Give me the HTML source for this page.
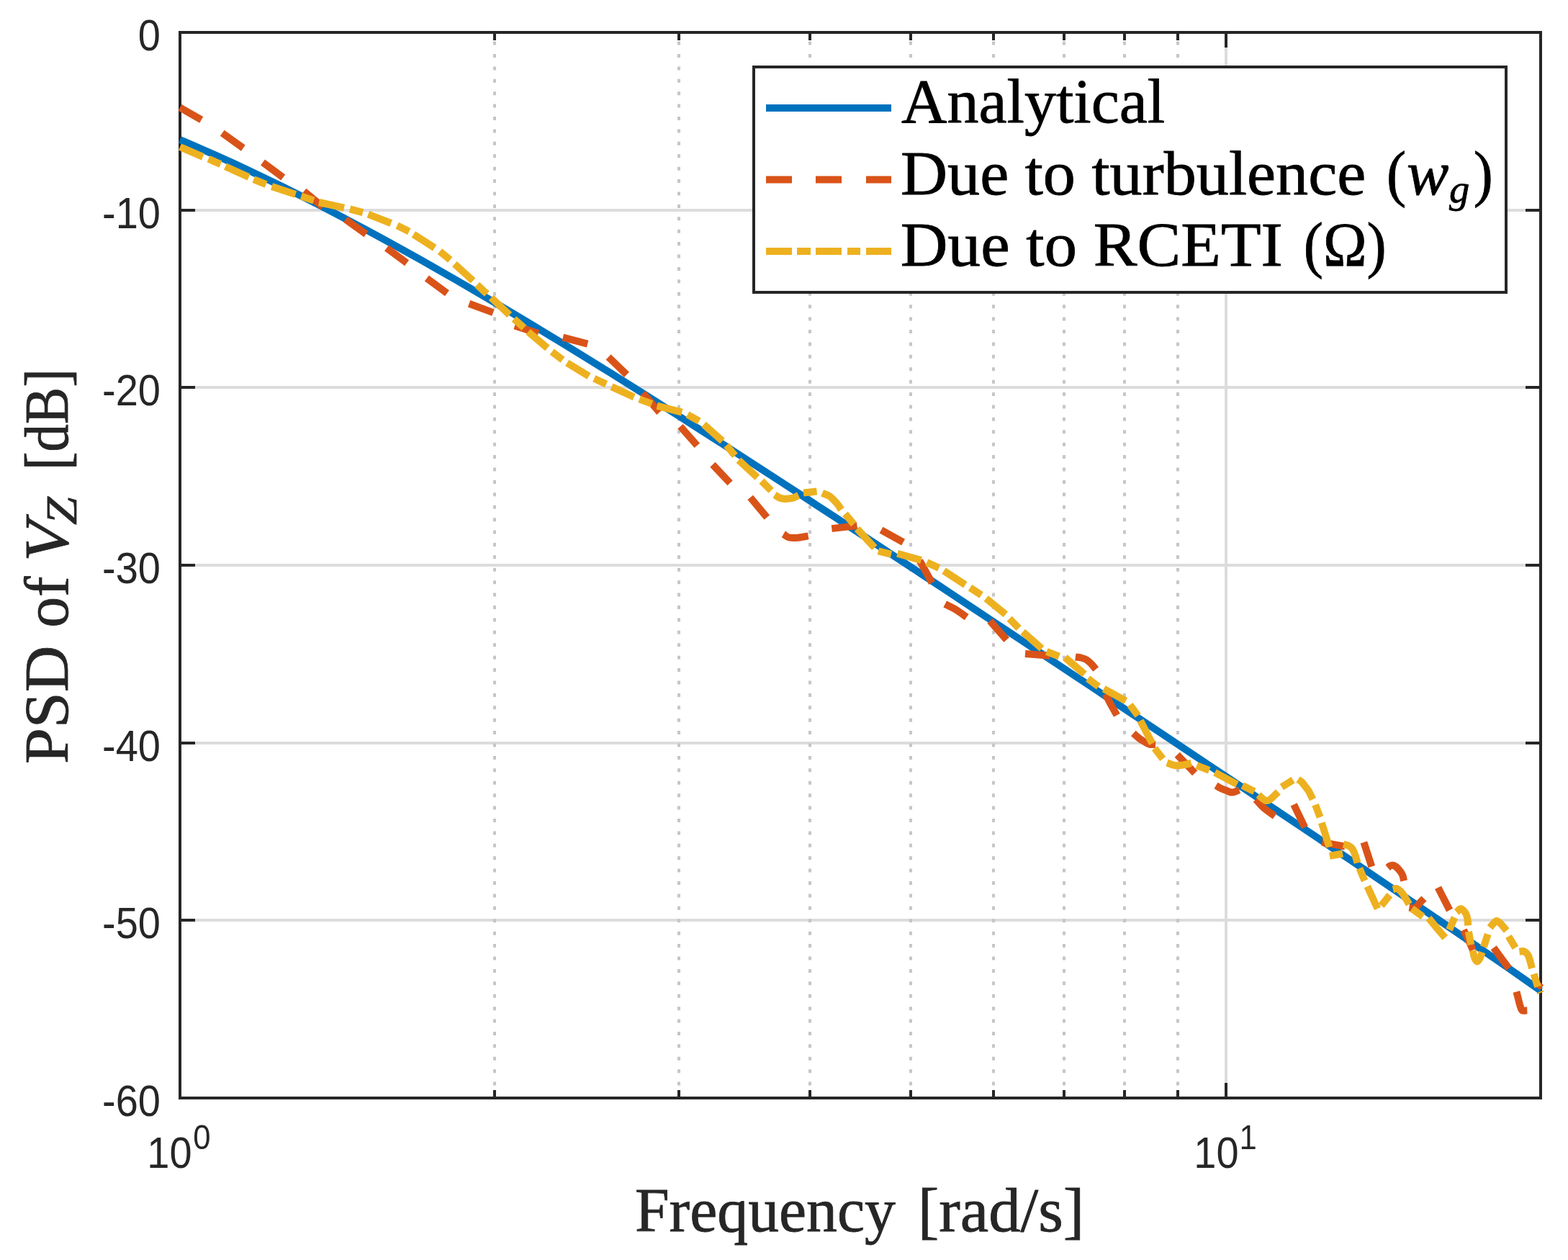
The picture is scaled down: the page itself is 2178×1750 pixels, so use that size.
<!DOCTYPE html>
<html><head><meta charset="utf-8"><title>PSD of V_Z</title>
<style>
html,body{margin:0;padding:0;background:#fff;}
svg{display:block;}
.tk{font-family:"Liberation Sans",Arial,sans-serif;font-size:61.5px;fill:#262626;}
.lb{font-family:"Liberation Serif","Times New Roman",serif;fill:#262626;stroke:#262626;stroke-width:0.8px;}
.lg{font-family:"Liberation Serif","Times New Roman",serif;fill:#000;stroke:#000;stroke-width:0.8px;}
</style></head>
<body>
<svg width="2178" height="1750" viewBox="0 0 2178 1750">
<rect x="0" y="0" width="2178" height="1750" fill="#ffffff"/>
<line x1="250" y1="292.00" x2="2140" y2="292.00" stroke="#dcdcdc" stroke-width="4"/>
<line x1="250" y1="538.00" x2="2140" y2="538.00" stroke="#dcdcdc" stroke-width="4"/>
<line x1="250" y1="785.00" x2="2140" y2="785.00" stroke="#dcdcdc" stroke-width="4"/>
<line x1="250" y1="1032.00" x2="2140" y2="1032.00" stroke="#dcdcdc" stroke-width="4"/>
<line x1="250" y1="1278.00" x2="2140" y2="1278.00" stroke="#dcdcdc" stroke-width="4"/>
<line x1="1703.00" y1="45" x2="1703.00" y2="1525" stroke="#dcdcdc" stroke-width="4"/>
<line x1="687.00" y1="1525" x2="687.00" y2="45" stroke="#c6c6c6" stroke-width="4" stroke-dasharray="5 12.41" stroke-dashoffset="0"/>
<line x1="943.00" y1="1525" x2="943.00" y2="45" stroke="#c6c6c6" stroke-width="4" stroke-dasharray="5 12.41" stroke-dashoffset="0"/>
<line x1="1125.00" y1="1525" x2="1125.00" y2="45" stroke="#c6c6c6" stroke-width="4" stroke-dasharray="5 12.41" stroke-dashoffset="0"/>
<line x1="1265.00" y1="1525" x2="1265.00" y2="45" stroke="#c6c6c6" stroke-width="4" stroke-dasharray="5 12.41" stroke-dashoffset="0"/>
<line x1="1380.00" y1="1525" x2="1380.00" y2="45" stroke="#c6c6c6" stroke-width="4" stroke-dasharray="5 12.41" stroke-dashoffset="0"/>
<line x1="1478.00" y1="1525" x2="1478.00" y2="45" stroke="#c6c6c6" stroke-width="4" stroke-dasharray="5 12.41" stroke-dashoffset="0"/>
<line x1="1562.00" y1="1525" x2="1562.00" y2="45" stroke="#c6c6c6" stroke-width="4" stroke-dasharray="5 12.41" stroke-dashoffset="0"/>
<line x1="1636.00" y1="1525" x2="1636.00" y2="45" stroke="#c6c6c6" stroke-width="4" stroke-dasharray="5 12.41" stroke-dashoffset="0"/>
<path d="M250 45.00H271M2140 45.00H2119M250 292.00H271M2140 292.00H2119M250 538.00H271M2140 538.00H2119M250 785.00H271M2140 785.00H2119M250 1032.00H271M2140 1032.00H2119M250 1278.00H271M2140 1278.00H2119M250 1525.00H271M2140 1525.00H2119M1703.00 1525V1504M1703.00 45V66M687.00 1525V1514M687.00 45V56M943.00 1525V1514M943.00 45V56M1125.00 1525V1514M1125.00 45V56M1265.00 1525V1514M1265.00 45V56M1380.00 1525V1514M1380.00 45V56M1478.00 1525V1514M1478.00 45V56M1562.00 1525V1514M1562.00 45V56M1636.00 1525V1514M1636.00 45V56" stroke="#262626" stroke-width="4" fill="none"/>
<rect x="250" y="45" width="1890" height="1480" fill="none" stroke="#262626" stroke-width="4"/>
<g class="tk">
<text x="223" y="69.50" text-anchor="end" textLength="31.14" lengthAdjust="spacingAndGlyphs">0</text>
<text x="223" y="316.50" text-anchor="end" textLength="80.89" lengthAdjust="spacingAndGlyphs">-10</text>
<text x="223" y="562.50" text-anchor="end" textLength="80.89" lengthAdjust="spacingAndGlyphs">-20</text>
<text x="223" y="809.50" text-anchor="end" textLength="80.89" lengthAdjust="spacingAndGlyphs">-30</text>
<text x="223" y="1056.50" text-anchor="end" textLength="80.89" lengthAdjust="spacingAndGlyphs">-40</text>
<text x="223" y="1302.50" text-anchor="end" textLength="80.89" lengthAdjust="spacingAndGlyphs">-50</text>
<text x="223" y="1549.50" text-anchor="end" textLength="80.89" lengthAdjust="spacingAndGlyphs">-60</text>
<text x="204.3" y="1621.5" textLength="62.26" lengthAdjust="spacingAndGlyphs">10</text>
<text x="268.3" y="1595.6" font-size="48" textLength="24.30" lengthAdjust="spacingAndGlyphs">0</text>
<text x="1658.3" y="1621.5" textLength="62.26" lengthAdjust="spacingAndGlyphs">10</text>
<text x="1721.5" y="1595.6" font-size="48" textLength="24.30" lengthAdjust="spacingAndGlyphs">1</text>
</g>
<g fill="none" stroke-width="10">
<path d="M250.0 194.0 L273.9 204.3 L297.8 214.8 L321.8 225.6 L345.7 236.8 L369.6 248.2 L393.5 259.8 L417.5 271.7 L441.4 283.9 L465.3 296.2 L489.2 308.8 L513.2 321.6 L537.1 334.6 L561.0 347.8 L584.9 361.2 L608.9 374.8 L632.8 388.5 L656.7 402.4 L680.6 416.4 L704.6 430.6 L728.5 444.9 L752.4 459.3 L776.3 473.8 L800.3 488.5 L824.2 503.3 L848.1 518.1 L872.0 533.1 L895.9 548.1 L919.9 563.2 L943.8 578.4 L967.7 593.7 L991.6 609.0 L1015.6 624.4 L1039.5 639.9 L1063.4 655.4 L1087.3 670.9 L1111.3 686.5 L1135.2 702.2 L1159.1 717.8 L1183.0 733.5 L1207.0 749.2 L1230.9 765.0 L1254.8 780.7 L1278.7 796.5 L1302.7 812.3 L1326.6 828.2 L1350.5 844.0 L1374.4 859.9 L1398.4 875.7 L1422.3 891.6 L1446.2 907.5 L1470.1 923.4 L1494.1 939.3 L1518.0 955.2 L1541.9 971.1 L1565.8 987.0 L1589.7 1002.9 L1613.7 1018.9 L1637.6 1034.8 L1661.5 1050.8 L1685.4 1066.8 L1709.4 1082.7 L1733.3 1098.7 L1757.2 1114.8 L1781.1 1130.8 L1805.1 1146.9 L1829.0 1162.9 L1852.9 1179.1 L1876.8 1195.2 L1900.8 1211.4 L1924.7 1227.6 L1948.6 1243.9 L1972.5 1260.2 L1996.5 1276.5 L2020.4 1292.9 L2044.3 1309.4 L2068.2 1325.9 L2092.2 1342.5 L2116.1 1359.2 L2140.0 1376.0" stroke="#0072bd" stroke-linejoin="round"/>
<path d="M250.0 149.4L279.7 166.3M308.7 184.8L337.8 205.6M365.0 225.5L393.2 246.4M422.2 265.6L448.5 287.3M479.9 304.7L508.5 325.1M537.0 344.5L565.1 365.3M592.8 386.5L621.0 407.2M651.6 421.7L685.0 434.1M715.0 452.6L747.7 463.0M781.9 468.7L816.2 477.6M845.1 495.8L870.5 520.3M893.0 546.0L916.1 572.6M945.0 592.3L968.3 618.7M989.9 645.3L1014.1 670.9M1042.2 690.9L1065.3 718.6M1088.3 741.9C1090.9 743.4 1093.0 745.7 1096.0 746.5C1099.0 747.3 1103.4 747.0 1106.4 746.9C1109.4 746.8 1111.5 746.3 1114.2 745.9C1116.9 745.5 1119.9 744.9 1122.7 744.4M1155.3 734.1L1190.5 730.1M1224.0 736.1L1254.6 753.2M1277.5 778.7L1294.5 809.5M1312.7 839.0C1317.7 841.6 1322.7 843.8 1327.7 846.8C1332.7 849.8 1337.7 853.7 1342.7 857.2M1375.1 862.4L1398.2 888.6M1424.0 908.0L1458.5 910.8M1493.8 912.6C1496.2 912.9 1498.5 912.8 1501.0 913.4C1503.5 914.0 1506.2 914.6 1508.6 916.0C1511.0 917.4 1513.3 919.4 1515.6 921.7C1517.9 924.0 1520.0 927.0 1522.2 929.7M1535.5 964.0C1538.2 969.1 1540.8 974.5 1543.5 979.4C1546.2 984.3 1548.8 988.7 1551.4 993.4M1574.3 1018.4C1576.2 1020.1 1578.1 1022.0 1580.0 1023.5C1581.9 1025.0 1582.9 1026.0 1585.6 1027.7C1588.3 1029.4 1592.8 1032.4 1596.0 1033.5C1599.2 1034.6 1602.1 1033.9 1605.1 1034.1M1635.2 1048.3L1659.7 1073.7M1689.0 1091.0C1691.3 1092.3 1693.7 1093.9 1696.0 1095.0C1698.3 1096.1 1700.4 1096.9 1703.0 1097.8C1705.6 1098.7 1708.5 1100.7 1711.6 1100.6C1714.6 1100.5 1718.1 1098.2 1721.3 1097.0M1744.4 1110.3C1748.4 1114.5 1752.1 1119.2 1756.5 1123.0C1760.9 1126.8 1766.0 1129.9 1770.8 1133.3M1797.1 1117.4L1812.4 1149.1M1836.4 1169.9L1868.2 1175.7M1894.4 1169.9L1905.3 1203.6M1927.6 1205.2C1928.7 1204.3 1929.6 1203.0 1931.0 1202.5C1932.4 1202.0 1934.1 1201.3 1936.0 1202.0C1937.9 1202.7 1940.3 1204.7 1942.3 1206.9C1944.3 1209.1 1946.7 1212.2 1948.0 1215.0C1949.3 1217.8 1949.4 1220.6 1950.1 1223.4M1957.4 1260.5C1959.3 1260.8 1961.2 1261.8 1963.0 1261.5C1964.8 1261.2 1966.3 1260.4 1968.0 1259.0C1969.7 1257.6 1971.3 1254.8 1973.0 1253.0C1974.7 1251.2 1976.3 1249.7 1978.0 1248.0M1997.5 1232.7L2013.6 1264.1M2033.0 1291.6C2034.8 1295.3 2036.3 1298.0 2038.5 1302.7C2040.7 1307.4 2043.5 1313.9 2046.0 1319.5M2074.7 1316.3C2077.9 1320.6 2080.7 1324.5 2084.2 1329.3C2087.7 1334.1 2091.9 1339.7 2095.8 1344.9M2106.4 1377.4C2107.3 1380.8 2108.2 1384.2 2109.0 1387.5C2109.8 1390.8 2110.6 1394.3 2111.5 1397.0C2112.4 1399.7 2112.9 1402.5 2114.5 1403.5C2116.1 1404.5 2119.0 1403.4 2121.3 1403.3M2135.0 1372.0L2140.0 1365.0" stroke="#d95319" stroke-linecap="butt" stroke-linejoin="round"/>
<path d="M250.0 204.0L281.9 217.8M289.5 220.7L306.5 228.1M313.0 231.2L345.6 246.0M352.4 249.2L369.6 256.2M377.5 258.9L410.6 270.0M418.3 272.4L435.9 278.4M443.0 281.0L478.0 288.7M486.0 290.4L504.0 295.2M511.4 297.7L543.2 310.0M551.7 313.3L568.3 321.5M574.4 325.5L603.7 344.3M610.9 349.2L625.3 360.8M631.4 366.6L657.0 389.9M662.7 395.5L676.3 408.1M682.2 413.3L707.8 437.3M714.0 442.9L727.8 455.3M733.6 460.7L760.4 483.4M766.7 488.5L781.5 499.7M787.7 503.9L818.0 522.4M825.3 525.8L842.1 533.6M849.5 537.1L880.7 551.5M888.1 554.3L905.5 560.9M912.7 563.6L947.3 572.6M955.0 575.8L971.2 584.8M977.5 589.5L1003.5 612.6M1009.0 618.6L1021.0 632.8M1026.0 639.2L1052.0 663.2M1057.9 668.1L1071.1 681.3M1076.2 687.3C1078.5 688.7 1080.6 690.6 1083.0 691.5C1085.4 692.4 1087.8 692.9 1090.8 692.9C1093.8 692.9 1098.1 692.4 1101.2 691.6C1104.3 690.8 1106.5 689.2 1109.2 688.0M1116.0 684.4L1134.6 682.6M1142.1 684.9C1145.8 686.5 1149.5 687.1 1153.1 689.7C1156.7 692.3 1160.9 697.4 1163.5 700.4C1166.1 703.4 1166.8 705.4 1168.5 707.9M1173.9 713.7L1185.9 727.9M1190.5 734.3L1214.8 760.7M1220.0 765.3L1238.0 769.9M1246.5 768.8L1279.6 778.1M1287.4 781.1L1304.2 788.9M1311.0 792.8L1340.8 812.2M1347.5 816.3L1363.1 826.5M1369.7 831.2L1396.8 853.4M1402.1 859.3L1415.1 872.5M1420.7 877.6L1447.1 900.7M1453.8 905.0L1471.2 911.6M1479.3 913.1L1506.4 936.4M1511.1 942.4L1525.9 953.6M1533.2 956.7L1563.8 973.4M1569.6 978.9L1580.6 993.9M1584.0 1000.9L1600.5 1032.6M1603.8 1039.2L1615.2 1054.0M1621.0 1059.4C1624.8 1060.7 1628.8 1062.7 1632.4 1063.2C1636.0 1063.7 1639.1 1063.1 1642.8 1062.6C1646.5 1062.1 1650.7 1060.9 1654.7 1060.0M1662.3 1063.1L1679.7 1069.9M1687.4 1072.8L1718.4 1089.3M1725.7 1091.0L1742.3 1099.2M1748.1 1103.9C1749.7 1105.4 1751.3 1107.2 1753.0 1108.5C1754.7 1109.8 1756.7 1111.7 1758.5 1112.0C1760.3 1112.3 1761.2 1112.5 1764.0 1110.5C1766.8 1108.5 1771.6 1103.4 1775.4 1099.8M1780.3 1093.1L1796.1 1083.3M1803.0 1082.6C1804.7 1083.7 1806.4 1084.5 1808.0 1086.0C1809.6 1087.5 1810.9 1089.6 1812.6 1091.8C1814.3 1094.0 1816.2 1095.9 1818.0 1099.0C1819.8 1102.1 1821.7 1106.5 1823.5 1110.2M1827.0 1117.7L1833.6 1135.1M1835.8 1142.8L1846.4 1176.3M1846.9 1188.9L1865.1 1185.5M1866.0 1172.6C1868.3 1173.2 1870.8 1173.4 1872.9 1174.5C1875.0 1175.6 1876.9 1176.8 1878.5 1179.0C1880.1 1181.2 1881.3 1184.8 1882.5 1188.0C1883.7 1191.2 1884.5 1195.0 1885.5 1198.5M1888.4 1206.0L1895.6 1223.2M1899.3 1231.2L1913.5 1262.0M1918.7 1257.8L1930.3 1243.2M1934.8 1235.2C1936.5 1234.8 1938.2 1233.5 1940.0 1234.0C1941.8 1234.5 1943.9 1236.1 1945.8 1238.1C1947.7 1240.1 1949.7 1243.2 1951.6 1246.2C1953.5 1249.2 1955.5 1252.7 1957.4 1256.0M1961.2 1262.2L1976.4 1273.0M1984.4 1275.0C1988.0 1279.4 1991.4 1283.7 1995.2 1288.3C1999.0 1292.9 2003.3 1297.7 2007.3 1302.4M2013.0 1291.4L2020.6 1274.4M2023.2 1266.9C2025.1 1265.4 2026.9 1262.1 2029.0 1262.3C2031.1 1262.5 2034.0 1265.6 2035.6 1268.0C2037.2 1270.4 2037.9 1273.9 2038.5 1276.8C2039.1 1279.7 2038.9 1282.5 2039.1 1285.4M2039.9 1293.9L2043.3 1312.1M2045.7 1320.1C2046.5 1323.4 2047.0 1327.4 2048.0 1330.0C2049.0 1332.6 2050.6 1335.3 2051.8 1335.5C2053.1 1335.7 2054.3 1333.2 2055.5 1331.0C2056.7 1328.8 2057.6 1325.3 2058.7 1322.4M2060.9 1315.1L2066.7 1297.5M2069.7 1288.4C2071.1 1286.6 2072.4 1284.6 2074.0 1283.0C2075.6 1281.4 2077.2 1278.9 2079.0 1279.0C2080.8 1279.1 2082.7 1281.2 2085.0 1283.5C2087.3 1285.8 2090.1 1289.6 2092.7 1292.6M2095.4 1300.5L2105.0 1316.3M2110.4 1321.7C2112.1 1321.5 2113.8 1320.7 2115.4 1321.0C2117.0 1321.3 2118.6 1322.1 2120.0 1323.5C2121.4 1324.9 2122.4 1325.7 2123.7 1329.3C2125.0 1332.9 2126.6 1339.7 2128.0 1344.9M2130.5 1352.7L2136.1 1370.5" stroke="#edb120" stroke-linecap="butt" stroke-linejoin="round"/>
<path d="M2135 1380.5L2139.5 1378L2144 1376.5" stroke="#edb120" stroke-width="2"/>
</g>
<text class="lb" x="881.90" y="1710.2" font-size="86" textLength="362.08" lengthAdjust="spacingAndGlyphs">Frequency</text>
<text class="lb" x="1274.71" y="1710.2" font-size="86" textLength="231.65" lengthAdjust="spacingAndGlyphs">[rad/s]</text>
<text class="lb" transform="translate(94 1060.98) rotate(-90)" x="0" y="0" font-size="86" textLength="164.30" lengthAdjust="spacingAndGlyphs">PSD</text>
<text class="lb" transform="translate(94 871.79) rotate(-90)" x="0" y="0" font-size="86" textLength="71.33" lengthAdjust="spacingAndGlyphs">of</text>
<text class="lb" transform="translate(94 780.12) rotate(-90)" x="0" y="0" font-size="86" textLength="56.96" lengthAdjust="spacingAndGlyphs" font-style="italic">V</text>
<text class="lb" transform="translate(105.6 729.05) rotate(-90)" x="0" y="0" font-size="60.5" textLength="38.86" lengthAdjust="spacingAndGlyphs" font-style="italic">Z</text>
<text class="lb" transform="translate(94 653.06) rotate(-90)" x="0" y="0" font-size="86" textLength="140.79" lengthAdjust="spacingAndGlyphs">[dB]</text>
<rect x="1047" y="93" width="1045" height="313" fill="#ffffff" stroke="#262626" stroke-width="4"/>
<line x1="1064" y1="150" x2="1238" y2="150" stroke="#0072bd" stroke-width="10"/>
<path d="M1064 249.5H1100M1133 249.5H1169M1203 249.5H1238" stroke="#d95319" stroke-width="10"/>
<path d="M1064 349H1100M1107 349H1126M1133 349H1169M1177 349H1195M1203 349H1238" stroke="#edb120" stroke-width="10"/>
<text class="lg" x="1251.98" y="169.8" font-size="86" textLength="366.28" lengthAdjust="spacingAndGlyphs">Analytical</text>
<text class="lg" x="1250.90" y="269.7" font-size="86" textLength="646.36" lengthAdjust="spacingAndGlyphs">Due to turbulence</text>
<text class="lg" x="1926.12" y="269.7" font-size="86" textLength="27.08" lengthAdjust="spacingAndGlyphs">(</text>
<text class="lg" x="1953.96" y="269.7" font-size="86" textLength="58.42" lengthAdjust="spacingAndGlyphs" font-style="italic">w</text>
<text class="lg" x="2013.00" y="281" font-size="55" textLength="28.24" lengthAdjust="spacingAndGlyphs" font-style="italic">g</text>
<text class="lg" x="2046.68" y="269.7" font-size="86" textLength="26.95" lengthAdjust="spacingAndGlyphs">)</text>
<text class="lg" x="1250.88" y="368.8" font-size="86" textLength="530.98" lengthAdjust="spacingAndGlyphs">Due to RCETI</text>
<text class="lg" x="1810.81" y="368.8" font-size="86" textLength="114.98" lengthAdjust="spacingAndGlyphs">(Ω)</text>
</svg>
</body></html>
